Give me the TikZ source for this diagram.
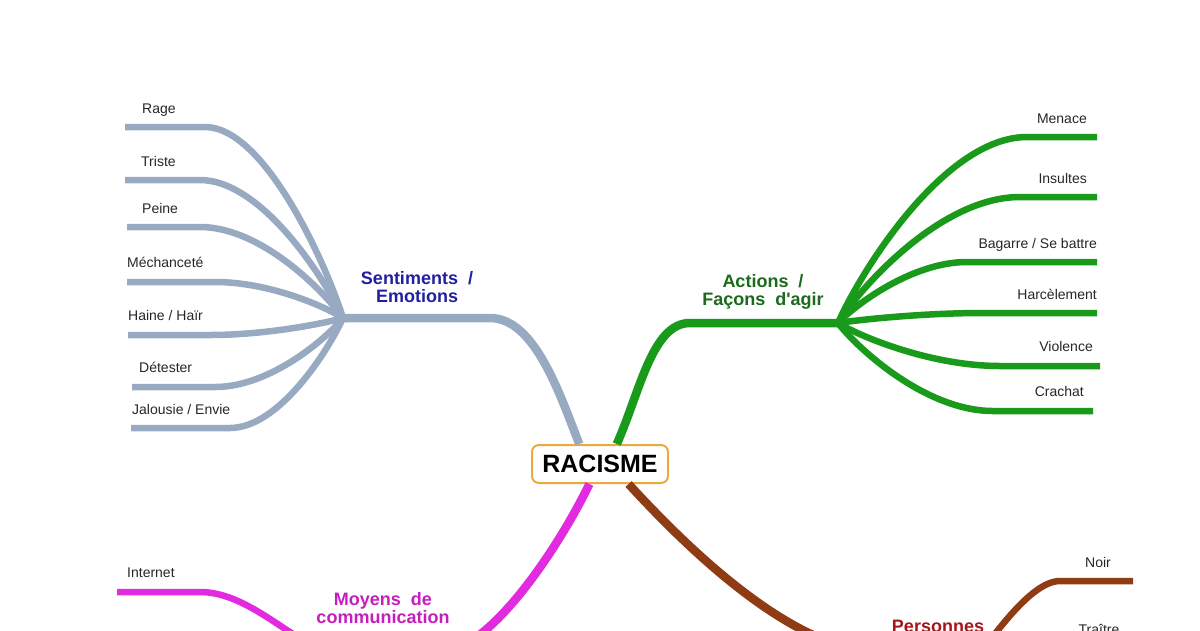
\documentclass[tikz,border=0pt]{standalone}
\usepackage{fontspec}
\setmainfont{Liberation Sans}

\definecolor{slate}{HTML}{98A9C2}
\definecolor{leafgreen}{HTML}{1A9A1A}
\definecolor{magentab}{HTML}{E22AE0}
\definecolor{rust}{HTML}{8F3B14}
\definecolor{boxorange}{HTML}{EBAA3E}
\definecolor{navytext}{HTML}{2020A0}
\definecolor{greentext}{HTML}{1C6A1C}
\definecolor{pinktext}{HTML}{C41EBE}
\definecolor{redtext}{HTML}{A5161A}

\begin{document}
\begin{tikzpicture}[x=1pt, y=-1pt,
    root/.style={draw=boxorange, line width=2pt, rounded corners=7pt, fill=white, minimum width=136pt, minimum height=38pt, inner sep=0pt, font=\bfseries\fontsize{25}{25}\selectfont},
    leaf/.style={inner sep=0pt, text=black!85, font=\fontsize{14}{16}\selectfont},
    title/.style={inner sep=0pt, align=center, font=\bfseries\fontsize{18}{18.5}\selectfont},
    trunk/.style={line width=8.5pt},
    twig/.style={line width=6.5pt}]
    \useasboundingbox (0,0) rectangle (1200,630);
    \clip (0,0) rectangle (1200,630);

    \node (r0) at (600,464) [root] {RACISME};

    % Sentiments / Emotions
    \coordinate (hs) at (343,318);
    \draw [trunk, slate] (r0.136) .. controls (560,395) and (535,318) .. (490,318) -- (hs);
    \draw [twig, slate] (hs) .. controls (325,261) and (264,127) .. (205,127) -- (125,127) coordinate (s1);
    \draw [twig, slate] (hs) .. controls (324,277) and (261,180) .. (200,180) -- (125,180) coordinate (s2);
    \draw [twig, slate] (hs) .. controls (324,291) and (261,227) .. (200,227) -- (127,227) coordinate (s3);
    \draw [twig, slate] (hs) .. controls (326,307) and (270,282) .. (215,282) -- (127,282) coordinate (s4);
    \draw [twig, slate] (hs) .. controls (326,323) and (267,335) .. (210,335) -- (128,335) coordinate (s5);
    \draw [twig, slate] (hs) .. controls (326,339) and (270,387) .. (215,387) -- (132,387) coordinate (s6);
    \draw [twig, slate] (hs) .. controls (328,351) and (279,428) .. (230,428) -- (131,428) coordinate (s7);
    \node (ts) at (417,287) [title, text=navytext] {Sentiments~~/\\Emotions};
    \node (ls1) at (142,113) [leaf, anchor=base west] {Rage};
    \node (ls2) at (141,166) [leaf, anchor=base west] {Triste};
    \node (ls3) at (142,213) [leaf, anchor=base west] {Peine};
    \node (ls4) at (127,267) [leaf, anchor=base west] {Méchanceté};
    \node (ls5) at (128,320) [leaf, anchor=base west] {Haine / Haïr};
    \node (ls6) at (139,372) [leaf, anchor=base west] {Détester};
    \node (ls7) at (132,414) [leaf, anchor=base west] {Jalousie / Envie};

    % Actions / Facons d'agir
    \coordinate (ha) at (838,323);
    \draw [trunk, leafgreen] (r0.50) .. controls (640,392) and (652,323) .. (690,323) -- (ha);
    \draw [twig, leafgreen] (ha) .. controls (863,267) and (946,137) .. (1027,137) -- (1097,137) coordinate (a1);
    \draw [twig, leafgreen] (ha) .. controls (862,285) and (942,197) .. (1020,197) -- (1097,197) coordinate (a2);
    \draw [twig, leafgreen] (ha) .. controls (855,305) and (912,262) .. (967,262) -- (1097,262) coordinate (a3);
    \draw [twig, leafgreen] (ha) .. controls (857,320) and (921,313) .. (983,313) -- (1097,313) coordinate (a4);
    \draw [twig, leafgreen] (ha) .. controls (859,336) and (930,366) .. (1000,366) -- (1100,366) coordinate (a5);
    \draw [twig, leafgreen] (ha) .. controls (858,349) and (926,411) .. (993,411) -- (1093,411) coordinate (a6);
    \node (ta) at (763,292) [title, text=greentext] {Actions~~/\\Façons~~d\textquotesingle agir};
    \node (la1) at (1087,123) [leaf, anchor=base east] {Menace};
    \node (la2) at (1087,183) [leaf, anchor=base east] {Insultes};
    \node (la3) at (1097,248) [leaf, anchor=base east] {Bagarre / Se battre};
    \node (la4) at (1097,299) [leaf, anchor=base east] {Harcèlement};
    \node (la5) at (1093,351) [leaf, anchor=base east] {Violence};
    \node (la6) at (1084,396) [leaf, anchor=base east] {Crachat};

    % Moyens de communication
    \coordinate (hm) at (330,652);
    \draw [trunk, magentab] (r0.242) .. controls (560,545) and (490,652) .. (440,652) -- (hm);
    \draw [twig, magentab] (hm) .. controls (295,645) and (250,592) .. (200,592) -- (117,592) coordinate (m1);
    \node (tm) at (383,608) [title, text=pinktext] {Moyens~~de\\communication};
    \node (lm1) at (127,577) [leaf, anchor=base west] {Internet};

    % Personnes
    \coordinate (hp) at (980,652);
    \draw [trunk, rust] (r0.325) .. controls (680,540) and (790,652) .. (880,652) -- (hp);
    \draw [twig, rust] (hp) .. controls (992,640) and (1030,581) .. (1060,581) -- (1133,581) coordinate (p1);
    \node (tp) at (938,632) [title, anchor=base, text=redtext] {Personnes};
    \node (lp1) at (1098,567) [leaf, anchor=base] {Noir};
    \node (lp2) at (1099,634) [leaf, anchor=base] {Traître};
\end{tikzpicture}
\end{document}
